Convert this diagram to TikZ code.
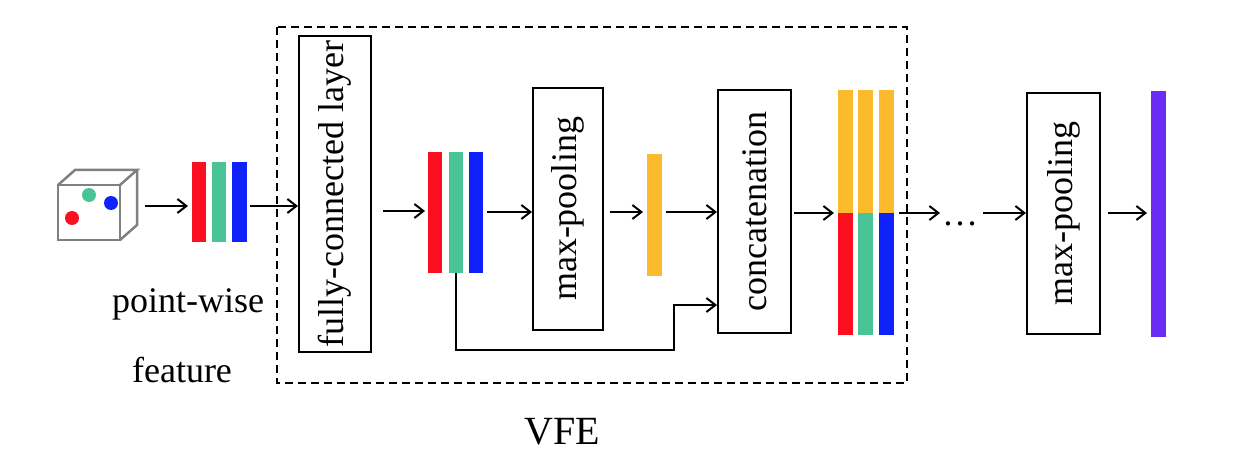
\documentclass[tikz,border=0pt]{standalone}
\usepackage{fontspec}
\setmainfont{Liberation Serif}
\usetikzlibrary{arrows.meta}
\begin{document}
\begin{tikzpicture}[x=1pt,y=-1pt,
  arr/.style={-{Straight Barb[length=9pt,width=14pt,line width=2pt]}, line width=2pt},
  blk/.style={draw, line width=2pt, rotate=90, inner sep=0pt, font=\fontsize{36}{40}\selectfont},
  lbl/.style={font=\fontsize{40}{44}\selectfont}]
\definecolor{cr}{HTML}{FB0F1F}
\definecolor{cg}{HTML}{48C496}
\definecolor{cb}{HTML}{0F22FB}
\definecolor{cy}{HTML}{FBBB2C}
\definecolor{cp}{HTML}{6A2BF5}
\useasboundingbox (0,0) rectangle (1238,470);
% dashed VFE box
\draw[line width=2pt, dash pattern=on 8pt off 5pt] (277,27) rectangle (907,383);
% cube
\begin{scope}[line width=2.5pt]
\draw[gray] (58,185) rectangle (120,240);
\draw[gray] (58,185) -- (75,170) -- (137,170) -- (120,185);
\draw[gray] (137,170) -- (137,225) -- (120,240);
\end{scope}
\fill[cr] (72,218) circle (7);
\fill[cg] (89,195) circle (7);
\fill[cb] (111,203) circle (7);
\coordinate (cube) at (145,206);
% feature bars
\fill[cr] (192,162) rectangle (206,242);
\fill[cg] (212,162) rectangle (226,242);
\fill[cb] (232,162) rectangle (247,242);
\coordinate (f1l) at (188,206);
\coordinate (f1r) at (250,206);
% blocks
\node[blk, minimum width=316, minimum height=72] (fc) at (335,194) {fully-connected layer};
\node[blk, minimum width=242, minimum height=70] (mp1) at (568,209) {max-pooling};
\node[blk, minimum width=243, minimum height=73] (cat) at (754.5,211.5) {concatenation};
\node[blk, minimum width=241, minimum height=73] (mp2) at (1063.5,213.5) {max-pooling};
% second bars
\fill[cr] (428,152) rectangle (442,273);
\fill[cg] (449,152) rectangle (463,273);
\fill[cb] (469,152) rectangle (483,273);
\coordinate (f2l) at (425,211);
\coordinate (f2r) at (487,212);
\coordinate (f2b) at (456,273);
% yellow
\fill[cy] (647,154) rectangle (662,276);
\coordinate (yl) at (643,212);
\coordinate (yr) at (666,212);
% concat bars
\foreach \x/\c in {838/cr,858/cg,879/cb}{
  \fill[cy] (\x,90) rectangle (\x+14.5,213);
  \fill[\c] (\x,213) rectangle (\x+14.5,335);
}
\coordinate (c3l) at (834,213);
\coordinate (c3r) at (899,213);
% dots
\node[font=\fontsize{36}{40}\selectfont] (dots) at (960,224) {\dots};
\coordinate (dr) at (983,213);
% purple
\fill[cp] (1151,91) rectangle (1166,337);
\coordinate (pl) at (1147,213);
% arrows
\draw[arr] (cube) -- (f1l);
\draw[arr] (f1r) -- (fc.north |- f1r);
\draw[arr] (383,211) -- (f2l);
\draw[arr] (f2r) -- (mp1.north |- f2r);
\draw[arr] (mp1.south |- yl) ++(6,0) -- (yl);
\draw[arr] (yr) -- (cat.north |- yr);
\draw[arr] (f2b) -- (456,350) -- (674,350) -- (674,305) -- (cat.north |- 0,305);
\draw[arr] (cat.south |- c3l) ++(2,0) -- (c3l);
\draw[arr] (c3r) -- (940,213);
\draw[arr] (dr) -- (mp2.north |- dr);
\draw[arr] (mp2.south |- pl) ++(7,0) -- (pl);
% labels
\node[font=\fontsize{36}{40}\selectfont] (pw) at (188,304) {point-wise};
\node[font=\fontsize{36}{40}\selectfont] (ft) at (182,370) {feature};
\node[lbl] (vfe) at (562,432) {VFE};
\end{tikzpicture}
\end{document}
